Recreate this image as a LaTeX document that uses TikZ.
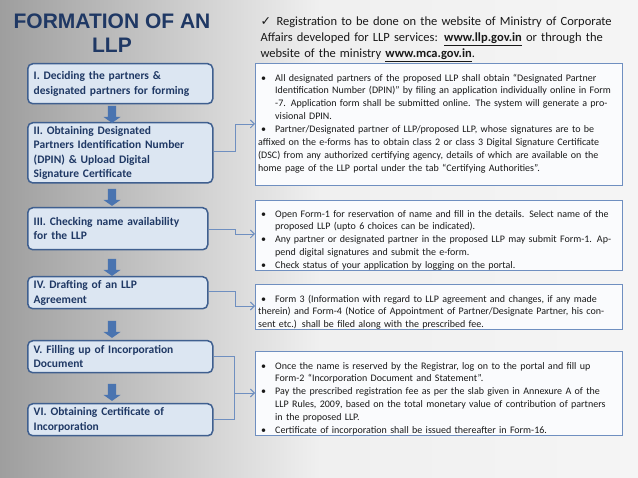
\documentclass[tikz,border=0pt]{standalone}
\usepackage{fontspec}
\setmainfont{Carlito}
\newfontfamily\titlefont{Liberation Sans}
\newfontfamily\symfont{DejaVu Sans}
\usetikzlibrary{arrows.meta,shapes.arrows}
\definecolor{navy}{HTML}{1F3864}
\definecolor{bfill}{HTML}{DCE6F2}
\definecolor{bdraw}{HTML}{3F5F8F}
\definecolor{rdraw}{HTML}{6F8FC0}
\definecolor{arr}{HTML}{4A74B0}
\tikzset{x=1pt,y=-1pt,
 stepbox/.style={draw=bdraw,line width=1.5pt,fill=bfill,rounded corners=5pt,anchor=north west,align=left,inner xsep=6pt,font=\bfseries\fontsize{11.5}{14.5}\selectfont,text=navy},
 infobox/.style={draw=rdraw,line width=0.8pt,fill=white!85!bfill,anchor=north west,inner sep=0pt},
 downarr/.style={single arrow,draw=none,fill=arr,minimum width=17pt,single arrow head extend=3pt,single arrow tip angle=110,shape border rotate=270,inner sep=2.5pt,minimum height=17pt},
 conn/.style={draw=rdraw,line width=0.9pt},
 connarr/.style={conn,-{Straight Barb[length=4pt,width=8pt]}},
 itemtext/.style={anchor=north west,inner sep=0pt,text width=356pt,align=left,font=\fontsize{10}{12.9}\selectfont,text=black!90}}
\newcommand{\bitem}[1]{\par\hangindent=17pt\hangafter=1\noindent\makebox[17pt][l]{\hspace{3pt}\textbullet}#1}
\begin{document}
\begin{tikzpicture}
\shade[left color=black!38,right color=black!4,middle color=black!6] (0,0) rectangle (638,478);
\useasboundingbox (0,0) rectangle (638,478);
\node[font=\titlefont\bfseries\fontsize{21}{24}\selectfont,text=navy,align=center] (title) at (112,33) {FORMATION OF AN\\LLP};
\node[anchor=north west,text width=360pt,align=left,font=\fontsize{12.5}{16.3}\selectfont,text=black!90] (top) at (257,13) {\hangindent=16pt\hangafter=1 \makebox[16pt][l]{{\symfont ✓}}Registration to be done on the website of Ministry of Corporate Affairs developed for LLP services: \textbf{\underline{www.llp.gov.in}} or through the website of the ministry \textbf{\underline{www.mca.gov.in}}.};
% left boxes
\node[stepbox,text width=173pt,minimum height=40pt] (s1) at (27,63) {I. Deciding the partners \&\\designated partners for forming};
\node[stepbox,text width=173pt,minimum height=59pt] (s2) at (27,122) {II. Obtaining Designated\\Partners Identification Number\\(DPIN) \& Upload Digital\\Signature Certificate};
\node[stepbox,text width=168pt,minimum height=42pt] (s3) at (27,207) {III. Checking name availability\\for the LLP};
\node[stepbox,text width=168pt,minimum height=32pt] (s4) at (27,276) {IV. Drafting of an LLP\\Agreement};
\node[stepbox,text width=173pt,minimum height=32pt] (s5) at (27,340) {V. Filling up of Incorporation\\Document};
\node[stepbox,text width=173pt,minimum height=32pt] (s6) at (27,403) {VI. Obtaining Certificate of\\Incorporation};
\foreach \y/\n in {113/a1,196/a2,266/a3,328/a4,391/a5}
  \node[downarr] (\n) at (112,\y) {};
% right boxes
\node[infobox,minimum width=367pt,minimum height=122pt] (r1) at (255,63) {};
\node[infobox,minimum width=367pt,minimum height=70pt] (r2) at (255,200) {};
\node[infobox,minimum width=367pt,minimum height=45pt] (r3) at (255,284) {};
\node[infobox,minimum width=367pt,minimum height=84pt] (r4) at (255,351) {};
\node[itemtext] (t1) at (258,68) {\bitem{All designated partners of the proposed LLP shall obtain “Designated Partner Identification Number (DPIN)” by filing an application individually online in Form -7. Application form shall be submitted online. The system will generate a provisional DPIN.}
\bitem{Partner/Designated partner of LLP/proposed LLP, whose signatures are to be affixed on the e-forms has to obtain class 2 or class 3 Digital Signature Certificate (DSC) from any authorized certifying agency, details of which are available on the home page of the LLP portal under the tab “Certifying Authorities”.}};
\node[itemtext] (t2) at (258,204) {\bitem{Open Form-1 for reservation of name and fill in the details. Select name of the proposed LLP (upto 6 choices can be indicated).}
\bitem{Any partner or designated partner in the proposed LLP may submit Form-1. Append digital signatures and submit the e-form.}
\bitem{Check status of your application by logging on the portal.}};
\node[itemtext] (t3) at (258,289) {\bitem{Form 3 (Information with regard to LLP agreement and changes, if any made therein) and Form-4 (Notice of Appointment of Partner/Designate Partner, his consent etc.) shall be filed along with the prescribed fee.}};
\node[itemtext] (t4) at (258,356) {\bitem{Once the name is reserved  by the Registrar, log on to the portal and fill up Form-2 “Incorporation Document and Statement”.}
\bitem{Pay the prescribed registration fee as per the slab given in Annexure A of the LLP Rules, 2009, based on the total monetary value of contribution of partners in the proposed LLP.}
\bitem{Certificate of incorporation shall be issued thereafter in Form-16.}};
% connectors
\coordinate (j1) at (235,124);
\draw[conn] (s2.east |- 0,151) -- (235,151) -- (j1);
\draw[connarr] (j1) -- (r1.west |- j1);
\coordinate (j2) at (235,234);
\draw[conn] (s3.east |- 0,229) -- (235,229) -- (j2);
\draw[connarr] (j2) -- (r2.west |- j2);
\coordinate (j3) at (235,306);
\draw[conn] (s4.east |- 0,291) -- (235,291) -- (j3);
\draw[connarr] (j3) -- (r3.west |- j3);
\coordinate (j4) at (234,393);
\draw[conn] (s5.east |- 0,356) -- (234,356) -- (234,419) -- (s6.east |- 0,419);
\draw[connarr] (j4) -- (r4.west |- j4);
\end{tikzpicture}
\end{document}
